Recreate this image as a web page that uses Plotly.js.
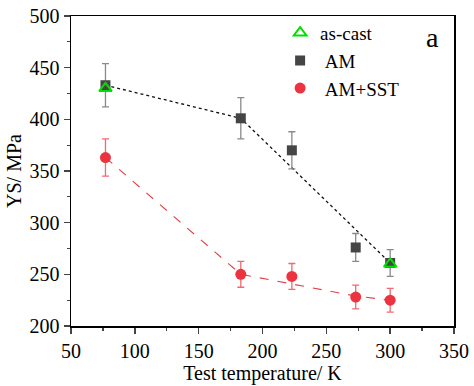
<!DOCTYPE html>
<html>
<head>
<meta charset="utf-8">
<script src="https://cdn.plot.ly/plotly-3.0.1.min.js"></script>
<style>html,body{margin:0;padding:0;background:#fff;}#chart{width:474px;height:386px;}</style>
</head>
<body>
<div id="chart"></div>
<script>
// Data
const temps = [77, 183, 223, 273, 300];
const amYS = [433, 401, 370, 276, 261];
const amErr = [21, 20, 18, 13.5, 13];
const sstYS = [363, 250, 248, 228, 225];
const sstErr = [18, 12.5, 12.5, 11.5, 11.5];
const castTemps = [77, 300];
const castYS = [430, 260];
// dashed guide lines
const amLineX = [77, 183, 300];
const amLineY = [433, 401, 261];
const sstLineX = [77, 183, 273, 300];
const sstLineY = [363, 250, 229, 225];

const serif = 'Liberation Serif, Times New Roman, Times, serif';

const traces = [
  {x: amLineX, y: amLineY, mode: 'lines', line: {color: '#111', dash: 'dot', width: 1.3}, showlegend: false, hoverinfo: 'skip'},
  {x: sstLineX, y: sstLineY, mode: 'lines', line: {color: '#e0404a', dash: 'dash', width: 1.1}, showlegend: false, hoverinfo: 'skip'},
  {x: temps, y: amYS, name: '\u00a0AM', legendrank: 2, mode: 'markers', type: 'scatter',
   marker: {symbol: 'square', size: 10, color: '#454545'},
   error_y: {type: 'data', array: amErr, visible: true, color: '#8a8a8a', thickness: 1.3, width: 3.5}},
  {x: temps, y: sstYS, name: '\u00a0AM+SST', legendrank: 3, mode: 'markers', type: 'scatter',
   marker: {symbol: 'circle', size: 11, color: '#ee3340'},
   error_y: {type: 'data', array: sstErr, visible: true, color: '#f06a72', thickness: 1.3, width: 3.5}},
  {x: castTemps, y: castYS, name: 'as-cast', legendrank: 1, mode: 'markers', type: 'scatter',
   marker: {symbol: 'triangle-up-open', size: 11, color: '#00e000', line: {width: 2, color: '#00e000'}}}
];

const layout = {
  width: 474, height: 386,
  margin: {l: 71, r: 20, t: 16, b: 60},
  paper_bgcolor: '#fff', plot_bgcolor: '#fff',
  font: {family: serif, color: '#000', size: 20},
  showlegend: true,
  legend: {x: 0.546, y: 1.007, xanchor: 'left', yanchor: 'top',
           font: {family: serif, size: 19, color: '#000'}, bgcolor: 'rgba(0,0,0,0)', itemwidth: 30},
  xaxis: {range: [50, 350], tickvals: [50,100,150,200,250,300,350], ticks: 'outside', ticklen: 6, tickwidth: 1.5,
          minor: {ticks: 'outside', ticklen: 3, tickwidth: 1.2, dtick: 25},
          showline: true, mirror: true, linecolor: '#000', linewidth: 1.5, showgrid: false, zeroline: false,
          tickfont: {family: serif, size: 20}, title: {text: 'Test temperature/ K', font: {family: serif, size: 20}, standoff: 4}},
  yaxis: {range: [200, 500], tickvals: [200,250,300,350,400,450,500], ticks: 'outside', ticklen: 6, tickwidth: 1.5,
          minor: {ticks: 'outside', ticklen: 3, tickwidth: 1.2, dtick: 25},
          showline: true, mirror: true, linecolor: '#000', linewidth: 1.5, showgrid: false, zeroline: false,
          tickfont: {family: serif, size: 20}, title: {text: 'YS/ MPa', font: {family: serif, size: 20}, standoff: 2}},
  annotations: [{text: 'a', xref: 'paper', yref: 'paper', x: 0.944, y: 0.932, xanchor: 'center', yanchor: 'middle',
                 showarrow: false, font: {family: serif, size: 28, color: '#000'}}]
};

Plotly.newPlot('chart', traces, layout, {displayModeBar: false, staticPlot: true});
</script>
</body>
</html>
